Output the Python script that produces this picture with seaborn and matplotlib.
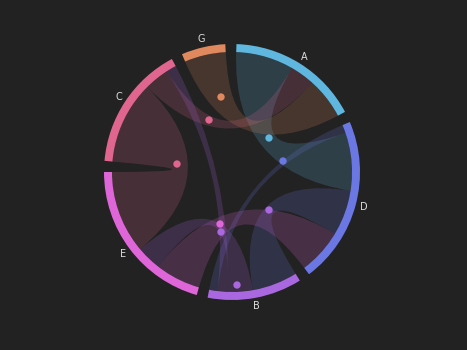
import numpy as np
import matplotlib
matplotlib.use("Agg")
import matplotlib.pyplot as plt
from matplotlib.path import Path
from matplotlib.patches import PathPatch, Wedge
import seaborn as sns
import pandas as pd

# ---------------- data ----------------
nodes = ["A", "D", "B", "E", "C", "G"]          # clockwise from top
node_colors = ["#5fb6de", "#6b77e2", "#aa68e0", "#de66d8", "#e0668f", "#e0895e"]

link_source = ["A", "C", "G", "D", "C", "B", "D", "E", "B"]
link_target = ["D", "A", "A", "B", "E", "C", "B", "D", "E"]
link_value = [28, 12, 20, 4, 40, 5, 22, 22, 12]

# clockwise order of link indices inside every node
node_link_order = {
    "A": [0, 1, 2],
    "D": [3, 0, 6, 7],
    "B": [6, 8, 5, 3],
    "E": [7, 8, 4],
    "C": [4, 1, 5],
    "G": [2],
}

dot_x = [-11, -23, 37, 51, -55, 37, -12, -11, 5]
dot_y = [75, 52, 34, 11, 8, -38, -52, -60, -113]
dot_node = ["G", "C", "A", "D", "C", "B", "E", "B", "B"]

# ---------------- layout ----------------
bg = "#222222"
start_angle = 88.0
gap = 5.0
r_in, r_out = 120.0, 128.0
label_r = 136.0

sns.set_theme(style="dark", rc={"axes.facecolor": bg, "figure.facecolor": bg})

color_of = dict(zip(nodes, node_colors))
totals = {n: 0 for n in nodes}
for s, t, v in zip(link_source, link_target, link_value):
    totals[s] += v
    totals[t] += v
scale = (360 - gap * len(nodes)) / sum(totals.values())

node_span = {}
link_span = {}
ang = start_angle
for n in nodes:
    a0 = ang
    a1 = a0 - totals[n] * scale
    node_span[n] = (a0, a1)
    cur = a0
    for li in node_link_order[n]:
        w = link_value[li] * scale
        link_span[(li, n)] = (cur, cur - w)
        cur -= w
    ang = a1 - gap

fig = plt.figure(figsize=(4.67, 3.5), dpi=100)
ax = fig.add_axes([0, 0, 1, 1])


def pt(a, r=r_in):
    return (r * np.cos(np.radians(a)), r * np.sin(np.radians(a)))


def arc_pts(a0, a1, r=r_in, n=40):
    return [pt(a, r) for a in np.linspace(a0, a1, n)]


for li, (s, t, v) in enumerate(zip(link_source, link_target, link_value)):
    a1, a2 = link_span[(li, s)]
    b1, b2 = link_span[(li, t)]
    verts, codes = [], []
    arc1 = arc_pts(a1, a2)
    verts += arc1
    codes += [Path.MOVETO] + [Path.LINETO] * (len(arc1) - 1)
    verts += [(0, 0), pt(b1)]
    codes += [Path.CURVE3, Path.CURVE3]
    arc2 = arc_pts(b1, b2)[1:]
    verts += arc2
    codes += [Path.LINETO] * len(arc2)
    verts += [(0, 0), pt(a1)]
    codes += [Path.CURVE3, Path.CURVE3]
    verts += [pt(a1)]
    codes += [Path.CLOSEPOLY]
    ax.add_patch(PathPatch(Path(verts, codes), facecolor=color_of[s],
                           alpha=0.2, edgecolor="none", zorder=2))

for n in nodes:
    a0, a1 = node_span[n]
    ax.add_patch(Wedge((0, 0), r_out, a1, a0, width=r_out - r_in,
                       facecolor=color_of[n], edgecolor="none", zorder=3))
    mid = (a0 + a1) / 2
    x, y = pt(mid, label_r)
    ax.text(x, y, n, color="#dddddd", fontsize=7, ha="center", va="center",
            zorder=4)

dots = pd.DataFrame({"x": dot_x, "y": dot_y, "node": dot_node})
sns.scatterplot(data=dots, x="x", y="y", hue="node", palette=color_of,
                s=28, edgecolor="none", legend=False, ax=ax, zorder=5)
ax.set_xlim(-232, 235)
ax.set_ylim(-178, 172)
ax.set_axis_off()

fig.savefig("out.png", dpi=100, facecolor=bg)
